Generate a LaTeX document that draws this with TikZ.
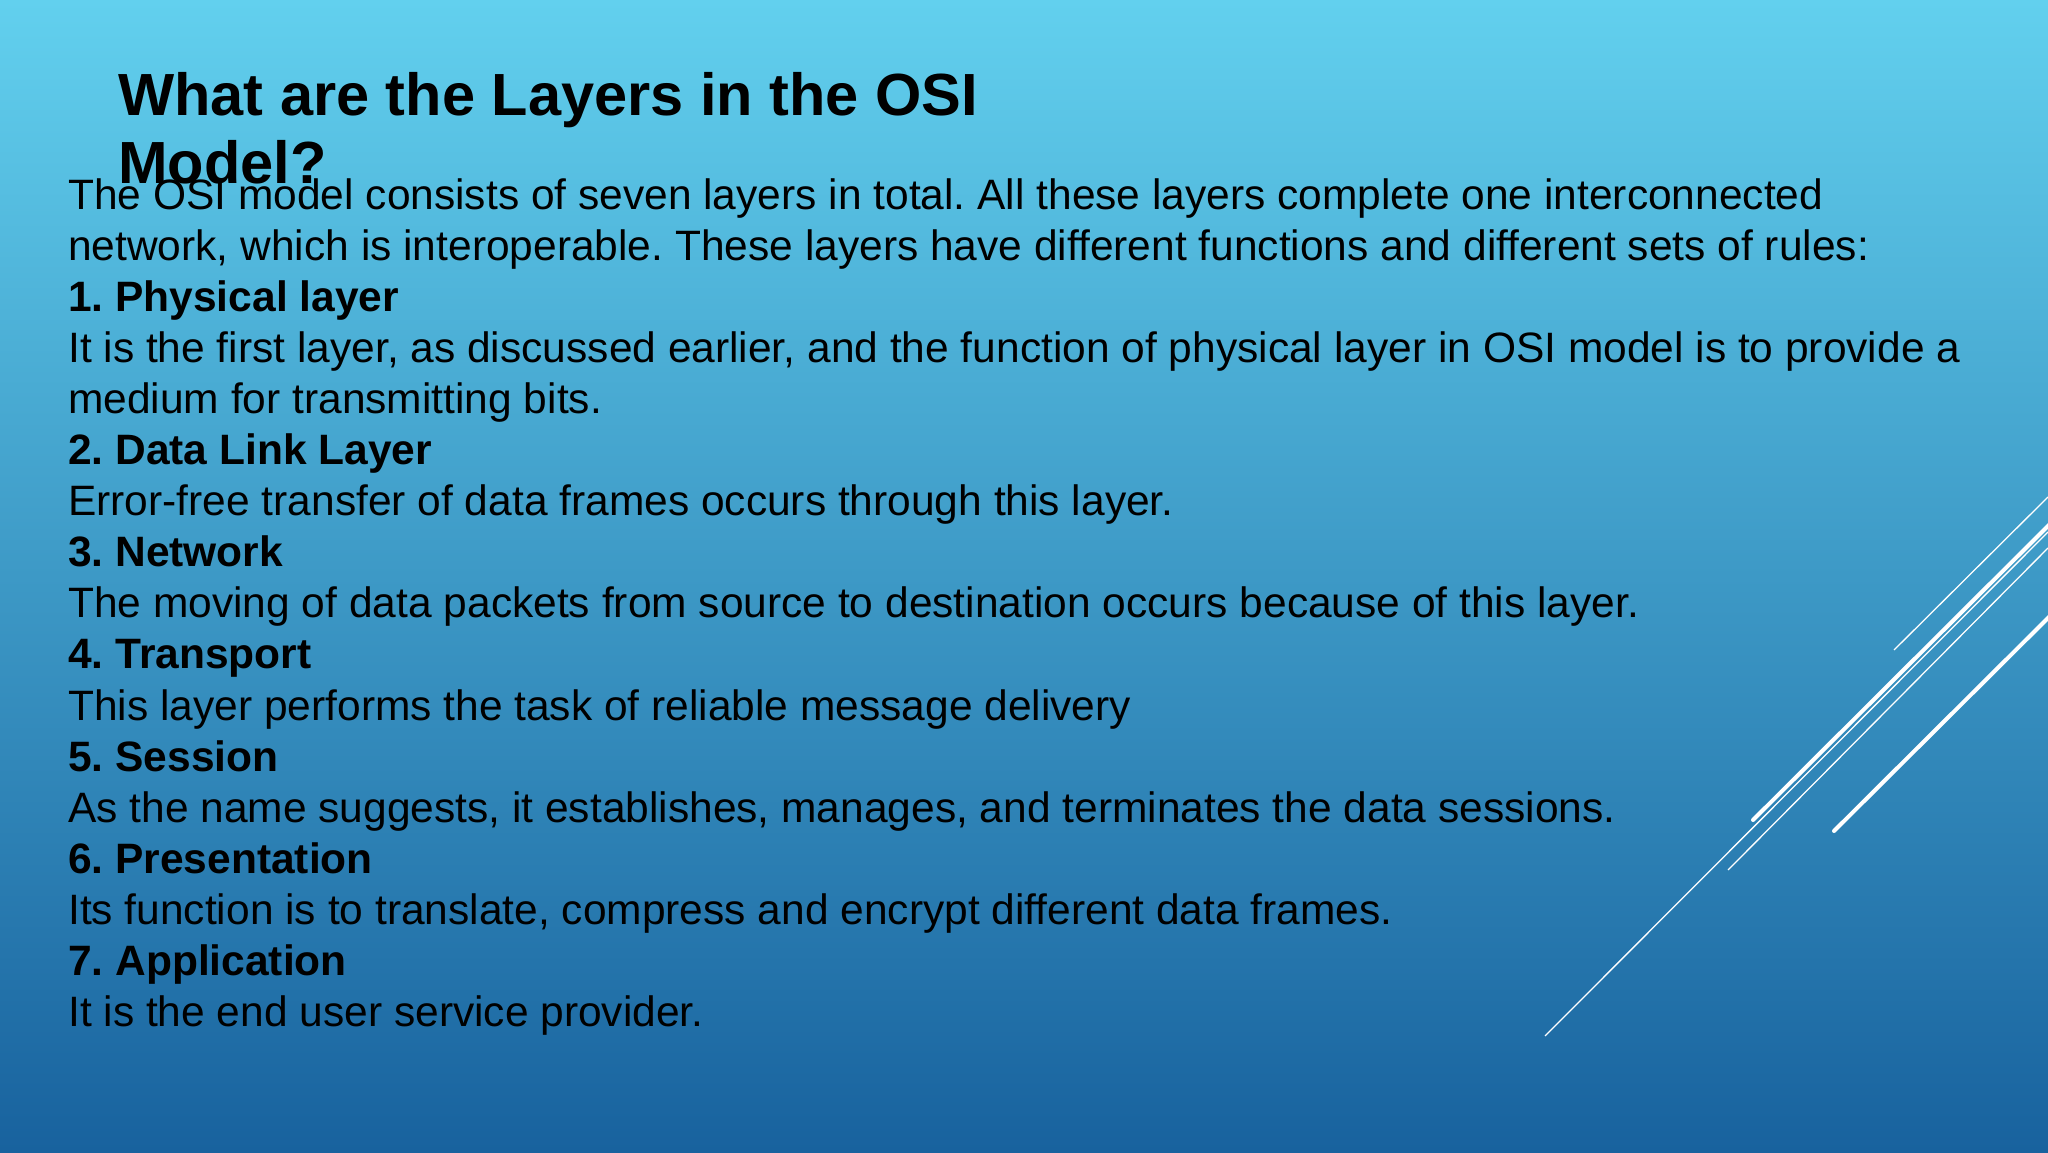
\documentclass[tikz,border=0pt]{standalone}
\usepackage{fontspec}
\setmainfont{Liberation Sans}
\definecolor{topc}{RGB}{98,208,238}
\definecolor{botc}{RGB}{24,98,158}
\begin{document}
\begin{tikzpicture}[x=1pt,y=-1pt,
  body/.style={anchor=base west,inner sep=0pt,font=\fontsize{42.5}{50}\selectfont\frenchspacing},
  head/.style={body,font=\fontsize{42.5}{50}\selectfont\bfseries\frenchspacing},
  ttl/.style={anchor=base west,inner sep=0pt,font=\fontsize{59.5}{70}\selectfont\bfseries},
  thinl/.style={white,line width=1.3pt},
  thickl/.style={white,line width=4pt,line cap=round}]
\shade[top color=topc,bottom color=botc] (0,0) rectangle (2048,1152);
\useasboundingbox (0,0) rectangle (2048,1152);
\def\ls{51.1}
\node[body] (l1) at (68,209) {The OSI model consists of seven layers in total. All these layers complete one interconnected};
\node[body] (l2) at (68,209+1*\ls) {network, which is interoperable. These layers have different functions and different sets of rules:};
\node[head] (l3) at (68,209+2*\ls) {1. Physical layer};
\node[body] (l4) at (68,209+3*\ls) {It is the first layer, as discussed earlier, and the function of physical layer in OSI model is to provide a};
\node[body] (l5) at (68,209+4*\ls) {medium for transmitting bits.};
\node[head] (l6) at (68,209+5*\ls) {2. Data Link Layer};
\node[body] (l7) at (68,209+6*\ls) {Error-free transfer of data frames occurs through this layer.};
\node[head] (l8) at (68,209+7*\ls) {3. Network};
\node[body] (l9) at (68,209+8*\ls) {The moving of data packets from source to destination occurs because of this layer.};
\node[head] (l10) at (68,209+9*\ls) {4. Transport};
\node[body] (l11) at (68,209+10*\ls) {This layer performs the task of reliable message delivery};
\node[head] (l12) at (68,209+11*\ls) {5. Session};
\node[body] (l13) at (68,209+12*\ls) {As the name suggests, it establishes, manages, and terminates the data sessions.};
\node[head] (l14) at (68,209+13*\ls) {6. Presentation};
\node[body] (l15) at (68,209+14*\ls) {Its function is to translate, compress and encrypt different data frames.};
\node[head] (l16) at (68,209+15*\ls) {7. Application};
\node[body] (l17) at (68,209+16*\ls) {It is the end user service provider.};
\node[ttl] (t1) at (118,115) {What are the Layers in the OSI};
\node[ttl] (t2) at (118,183) {Model?};
\draw[thinl] (1894,650) -- (2048,497);
\draw[thickl] (1753,820) -- (2052,522);
\draw[thinl] (1728,870) -- (2048,548);
\draw[thickl] (1834,831) -- (2052,614);
\draw[thinl] (1545,1036) -- (2048,532);
\end{tikzpicture}
\end{document}
